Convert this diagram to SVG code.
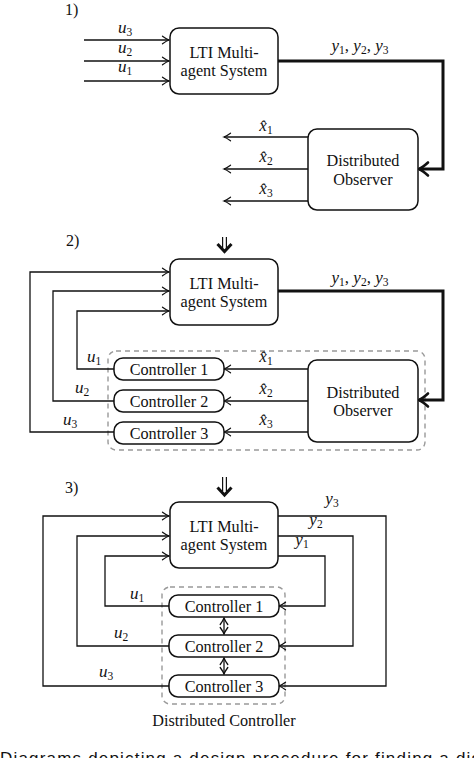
<svg xmlns="http://www.w3.org/2000/svg" width="474" height="758" viewBox="0 0 474 758">
<defs>
<style>
.box{fill:#fff;stroke:#111;stroke-width:1.5}
.dash{fill:none;stroke:#999;stroke-width:1.4;stroke-dasharray:5 4}
.ln{fill:none;stroke:#111;stroke-width:1.3}
.ar{marker-end:url(#ah)}
.bi{marker-end:url(#ah);marker-start:url(#ahs)}
.thick{fill:none;stroke:#111;stroke-width:3;marker-end:url(#ahb)}
text{font-family:"Liberation Serif","DejaVu Serif",serif;fill:#111}
.t{font-family:"Liberation Serif","DejaVu Serif",serif;font-size:16.2px;text-anchor:middle}
.m{font-family:"Liberation Serif","DejaVu Serif",serif;font-size:17px;font-style:italic;text-anchor:middle}
.s{font-size:11.5px;font-style:normal}
.lab{font-family:"Liberation Serif",serif;font-size:16px}
.cap{font-family:"Liberation Sans",Arial,sans-serif;font-size:17px}
</style>
<marker id="ah" markerUnits="userSpaceOnUse" orient="auto" overflow="visible" markerWidth="10" markerHeight="10">
<path d="M-6.5,-3.8 Q-2.5,-0.9 0,0 Q-2.5,0.9 -6.5,3.8" fill="none" stroke="#111" stroke-width="1.3" stroke-linecap="round"/>
</marker>
<marker id="ahs" markerUnits="userSpaceOnUse" orient="auto-start-reverse" overflow="visible" markerWidth="10" markerHeight="10">
<path d="M-6.5,-3.8 Q-2.5,-0.9 0,0 Q-2.5,0.9 -6.5,3.8" fill="none" stroke="#111" stroke-width="1.3" stroke-linecap="round"/>
</marker>
<marker id="ahb" markerUnits="userSpaceOnUse" orient="auto" overflow="visible" markerWidth="14" markerHeight="16">
<path d="M-9,-6.5 Q-3.5,-1.5 0,0 Q-3.5,1.5 -9,6.5" fill="none" stroke="#111" stroke-width="2.6" stroke-linecap="round"/>
</marker>
</defs>
<rect width="474" height="758" fill="#fff"/>

<!-- step labels -->
<text class="lab" x="65" y="15">1)</text>
<text class="lab" x="66" y="246">2)</text>
<text class="lab" x="65" y="493">3)</text>

<!-- transition arrows -->
<g id="step-arrows" fill="none" stroke="#111">
<path d="M222.6,237 V248 M226.4,237 V248" stroke-width="1.2"/>
<path d="M217.5,244 L224.5,251.5 L231.5,244" stroke-width="3"/>
<path d="M222.6,477 V491 M226.4,477 V491" stroke-width="1.2"/>
<path d="M217.5,487.5 L224.5,495 L231.5,487.5" stroke-width="3"/>
</g>

<!-- dashed groups -->
<g id="group-observer-controllers"><rect class="dash" x="108" y="351" width="317" height="99" rx="8"/></g>
<g id="group-distributed-controller"><rect class="dash" x="162" y="587" width="123" height="117" rx="8"/>
<text class="t" x="224" y="726">Distributed Controller</text></g>

<!-- connectors -->
<g id="connectors">
<!-- panel 1 -->
<path class="ln ar" d="M84,40 H169"/>
<path class="ln ar" d="M84,61 H169"/>
<path class="ln ar" d="M84,81 H169"/>
<path class="thick" d="M278,61 H443 V169 H419"/>
<path class="ln ar" d="M308,137 H224"/>
<path class="ln ar" d="M308,169 H224"/>
<path class="ln ar" d="M308,201 H224"/>
<!-- panel 2 -->
<path class="ln ar" d="M114,432 H30 V272 H169"/>
<path class="ln ar" d="M114,401 H53 V291 H169"/>
<path class="ln ar" d="M114,369 H77 V311 H169"/>
<path class="thick" d="M278,291 H443 V400 H419"/>
<path class="ln ar" d="M308,369 H224"/>
<path class="ln ar" d="M308,401 H224"/>
<path class="ln ar" d="M308,432 H224"/>
<!-- panel 3 -->
<path class="ln ar" d="M169,606 H105 V556 H169"/>
<path class="ln ar" d="M169,646 H77 V536 H169"/>
<path class="ln ar" d="M169,686 H43 V516 H169"/>
<path class="ln ar" d="M278,556 H325 V606 H279"/>
<path class="ln ar" d="M278,536 H353 V646 H279"/>
<path class="ln ar" d="M278,516 H386 V686 H279"/>
<path class="ln bi" d="M224,618 V634"/>
<path class="ln bi" d="M224,658 V674"/>
</g>

<!-- connector labels -->
<g id="labels">
<text class="m" x="125" y="33">u<tspan class="s" dy="3">3</tspan></text>
<text class="m" x="125" y="53">u<tspan class="s" dy="3">2</tspan></text>
<text class="m" x="125" y="72">u<tspan class="s" dy="3">1</tspan></text>
<text class="m" x="360" y="51">y<tspan class="s" dy="3">1</tspan><tspan dy="-3" font-style="normal">, </tspan>y<tspan class="s" dy="3">2</tspan><tspan dy="-3" font-style="normal">, </tspan>y<tspan class="s" dy="3">3</tspan></text>
<text class="m" x="266" y="131">x̂<tspan class="s" dy="3">1</tspan></text>
<text class="m" x="266" y="162">x̂<tspan class="s" dy="3">2</tspan></text>
<text class="m" x="266" y="194">x̂<tspan class="s" dy="3">3</tspan></text>

<text class="m" x="360" y="283">y<tspan class="s" dy="3">1</tspan><tspan dy="-3" font-style="normal">, </tspan>y<tspan class="s" dy="3">2</tspan><tspan dy="-3" font-style="normal">, </tspan>y<tspan class="s" dy="3">3</tspan></text>
<text class="m" x="94" y="362">u<tspan class="s" dy="3">1</tspan></text>
<text class="m" x="82" y="393">u<tspan class="s" dy="3">2</tspan></text>
<text class="m" x="70" y="425">u<tspan class="s" dy="3">3</tspan></text>
<text class="m" x="266" y="362">x̂<tspan class="s" dy="3">1</tspan></text>
<text class="m" x="266" y="394">x̂<tspan class="s" dy="3">2</tspan></text>
<text class="m" x="266" y="425">x̂<tspan class="s" dy="3">3</tspan></text>

<text class="m" x="137" y="599">u<tspan class="s" dy="3">1</tspan></text>
<text class="m" x="121" y="638">u<tspan class="s" dy="3">2</tspan></text>
<text class="m" x="106" y="677">u<tspan class="s" dy="3">3</tspan></text>
<text class="m" x="332" y="504">y<tspan class="s" dy="3">3</tspan></text>
<text class="m" x="316" y="525">y<tspan class="s" dy="3">2</tspan></text>
<text class="m" x="302" y="545">y<tspan class="s" dy="3">1</tspan></text>
</g>

<!-- panel 1 nodes -->
<g id="lti1"><rect class="box" x="170" y="28" width="108" height="66" rx="9"/>
<text class="t" x="224" y="57.5">LTI Multi-</text><text class="t" x="224" y="76">agent System</text></g>
<g id="obs1"><rect class="box" x="308" y="129" width="110" height="81" rx="9"/>
<text class="t" x="363" y="166">Distributed</text><text class="t" x="363" y="184.5">Observer</text></g>

<!-- panel 2 nodes -->
<g id="lti2"><rect class="box" x="170" y="259" width="108" height="66" rx="9"/>
<text class="t" x="224" y="288.5">LTI Multi-</text><text class="t" x="224" y="307">agent System</text></g>
<g id="obs2"><rect class="box" x="308" y="360" width="110" height="82" rx="9"/>
<text class="t" x="363" y="397.5">Distributed</text><text class="t" x="363" y="416">Observer</text></g>
<g id="ctrl2-1"><rect class="box" x="114" y="358" width="110" height="22" rx="9"/>
<text class="t" x="169" y="374.5">Controller 1</text></g>
<g id="ctrl2-2"><rect class="box" x="114" y="390" width="110" height="22" rx="9"/>
<text class="t" x="169" y="406.5">Controller 2</text></g>
<g id="ctrl2-3"><rect class="box" x="114" y="422" width="110" height="22" rx="9"/>
<text class="t" x="169" y="438.5">Controller 3</text></g>

<!-- panel 3 nodes -->
<g id="lti3"><rect class="box" x="170" y="502" width="108" height="66" rx="9"/>
<text class="t" x="224" y="531.5">LTI Multi-</text><text class="t" x="224" y="550">agent System</text></g>
<g id="ctrl3-1"><rect class="box" x="169" y="595" width="110" height="22" rx="9"/>
<text class="t" x="224" y="611.5">Controller 1</text></g>
<g id="ctrl3-2"><rect class="box" x="169" y="635" width="110" height="22" rx="9"/>
<text class="t" x="224" y="651.5">Controller 2</text></g>
<g id="ctrl3-3"><rect class="box" x="169" y="675" width="110" height="22" rx="9"/>
<text class="t" x="224" y="691.5">Controller 3</text></g>

<!-- caption (cut off at bottom edge, as in the reference) -->
<text class="cap" x="0" y="764" textLength="480" lengthAdjust="spacing">Diagrams depicting a design procedure for finding a dis</text>
</svg>
